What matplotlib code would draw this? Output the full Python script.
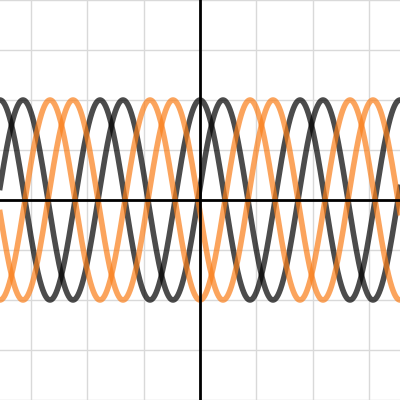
import matplotlib

matplotlib.use("Agg")
import matplotlib.pyplot as plt
import numpy as np

# (x in grid steps, y in grid units)
period = 1.77
amplitude = 2.0
black_phases = [0.0, 0.407]
orange_phases = [0.0, 0.407]
x_range = (-3.54, 3.54)
y_range = (-4.0, 4.0)

fig = plt.figure(figsize=(4, 4), dpi=100)
ax = fig.add_axes([0, 0, 1, 1])
ax.set_xlim(*x_range)
ax.set_ylim(*y_range)

for gx in range(-3, 4):
    ax.axvline(gx, color="#d9d9d9", lw=1, zorder=0)
for gy in range(-4, 5):
    ax.axhline(gy, color="#d9d9d9", lw=1, zorder=0)

x = np.linspace(*x_range, 2000)
for ph in black_phases:
    ax.plot(x, amplitude * np.cos(2 * np.pi * (x - ph) / period), color="black", lw=4, alpha=0.7, zorder=2)
for ph in orange_phases:
    ax.plot(x, -amplitude * np.cos(2 * np.pi * (x - ph) / period), color="#fa7e19", lw=4, alpha=0.7, zorder=2)

ax.axhline(0, color="black", lw=2, zorder=3)
ax.axvline(0, color="black", lw=2, zorder=3)
ax.set_xticks([])
ax.set_yticks([])
for s in ax.spines.values():
    s.set_visible(False)

fig.savefig("out.png", dpi=100)
